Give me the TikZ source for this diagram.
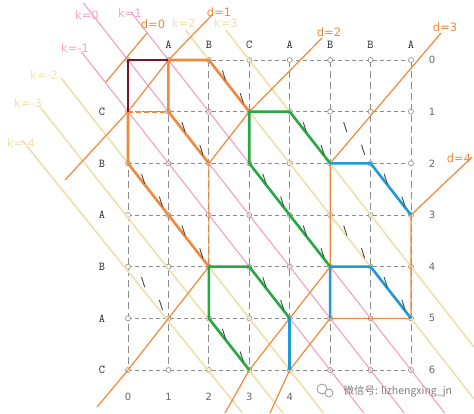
\documentclass[tikz,border=0pt]{standalone}
\usepackage{fontspec}
\setmainfont{DejaVu Sans}
\newfontfamily\cjkfont{Noto Sans CJK SC}
\usetikzlibrary{calc}
\definecolor{kpink}{HTML}{F2A7C6}
\definecolor{kbeige}{HTML}{EDE3B5}
\definecolor{dorange}{HTML}{F2893A}
\definecolor{pathred}{HTML}{7B1525}
\definecolor{pathgreen}{HTML}{27A845}
\definecolor{pathblue}{HTML}{1E9AD6}
\definecolor{gridgray}{HTML}{8C8C8C}
\tikzset{
  hgrid/.style={draw=gridgray, line width=0.8pt, dash pattern=on 4pt off 3pt},
  vgrid/.style={draw=gridgray, line width=0.9pt, dash pattern=on 7pt off 4pt},
  gpt/.style={circle, draw=gridgray, fill=white, line width=0.6pt, inner sep=0pt, minimum size=5pt},
  kp/.style={draw=kpink, line width=1.2pt},
  kb/.style={draw=kbeige, line width=1.8pt},
  dline/.style={draw=dorange, line width=1.2pt, line join=round},
  snakemark/.style={draw=black!72, line width=0.9pt},
  pth/.style={line width=2.6pt, line join=round},
  lbl/.style={font=\fontsize{12}{14}\ttfamily, text=black!85},
  num/.style={font=\fontsize{10}{12}\selectfont, text=black!60},
  klab/.style={font=\fontsize{11.5}{14}\selectfont, inner sep=1pt},
}
\begin{document}
\begin{tikzpicture}[x=1pt,y=-1pt]
\useasboundingbox (0,0) rectangle (474,413);
\clip (0,0) rectangle (474,413);
\fill[white] (0,0) rectangle (474,413);
% grid coordinates
\foreach \i in {0,...,7}{
  \foreach \j in {0,...,6}{
    \coordinate (p-\i-\j) at ({128+40.43*\i},{60+51.67*\j});
  }
}
% grid lines
\foreach \j in {0,...,6} \draw[hgrid] (p-0-\j) -- (p-7-\j);
\foreach \i in {0,...,7} \draw[vgrid] (p-\i-0) -- (p-\i-6);
% grid points
\foreach \i in {0,...,7}{
  \foreach \j in {0,...,6}{
    \node[gpt] (c-\i-\j) at (p-\i-\j) {};
  }
}
% k lines
\coordinate (k0a) at (83.4,3);    \coordinate (k0b) at (404.2,413);
\coordinate (k1a) at (130.9,12);  \coordinate (k1b) at (444.7,413);
\coordinate (km1a) at (81.5,52);  \coordinate (km1b) at (363.8,413);
\coordinate (k2a) at (185.4,30);  \coordinate (k2b) at (474,398.9);
\coordinate (k3a) at (225.8,30);  \coordinate (k3b) at (474,347);
\coordinate (km2a) at (61.2,78);  \coordinate (km2b) at (323.4,413);
\coordinate (km3a) at (40,107);   \coordinate (km3b) at (282.9,413);
\coordinate (km4a) at (22,140);   \coordinate (km4b) at (242.5,413);
\draw[kb] (k2a) -- (k2b);
\draw[kb] (k3a) -- (k3b);
\draw[kb] (km2a) -- (km2b);
\draw[kb] (km3a) -- (km3b);
\draw[kb] (km4a) -- (km4b);
\draw[kp] (k0a) -- (k0b);
\draw[kp] (k1a) -- (k1b);
\draw[kp] (km1a) -- (km1b);
% d lines
\coordinate (d0a) at (106,82);  \coordinate (d0b) at (147,33);
\coordinate (d1a) at (65,180);  \coordinate (d1b) at (212,15);
\coordinate (d2a) at (97,407);  \coordinate (d2b) at (322,38);
\coordinate (d3a) at (225,413); \coordinate (d3b) at (441,33);
\coordinate (d4a) at (270,413); \coordinate (d4b) at (472,157);
\draw[dline] (d0a) -- (d0b);
\draw[dline] (d1a) -- (p-0-1) -- (p-1-0) -- (d1b);
\draw[dline] (d2a) -- (p-0-6) -- (p-1-5) -- (p-2-4) -- (p-2-2) -- (p-3-1) -- (d2b);
\draw[dline] (d3a) -- (p-3-6) -- (p-4-5) -- (p-5-4) -- (p-5-2) -- (d3b);
\draw[dline] (d4a) -- (p-4-6) -- (p-5-5) -- (p-7-5) -- (p-7-3) -- (d4b);
% paths
\draw[pth, dorange] (p-3-1) -- (p-2-0) -- (p-1-0) -- (p-1-1) -- (p-2-2);
\draw[pth, dorange] (p-0-1) -- (p-0-2) -- (p-1-3) -- (p-2-4);
\draw[line width=2pt, dorange, dash pattern=on 5pt off 3pt] (p-0-1) -- (p-1-1);
\draw[pth, pathgreen] (p-5-2) -- (p-4-1) -- (p-3-1) -- (p-3-2) -- (p-4-3) -- (p-5-4);
\draw[pth, pathgreen] (p-4-5) -- (p-3-4) -- (p-2-4) -- (p-2-5) -- (p-3-6);
\draw[pth, pathblue] (p-7-3) -- (p-6-2) -- (p-5-2);
\draw[pth, pathblue] (p-7-5) -- (p-6-4) -- (p-5-4) -- (p-5-5);
\draw[pth, pathblue] (p-4-5) -- (p-4-6);
\draw[pth, pathred] (p-1-0) -- (p-0-0) -- (p-0-1);
% snake marks (matching diagonals), drawn as small backslashes
\foreach \i/\j in {2/0,1/1,4/1,5/1,0/2,3/2,6/2,1/3,4/3,5/3,0/4,3/4,6/4,2/5}{
  \pgfmathtruncatemacro\ii{\i+1}
  \pgfmathtruncatemacro\jj{\j+1}
  \foreach \t in {0.3,0.74}{
    \draw[snakemark] ($(p-\i-\j)!\t!(p-\ii-\jj)+(1.4,-5)$) -- ($(p-\i-\j)!\t!(p-\ii-\jj)+(4.6,5)$);
  }
}
% column letters
\foreach \i/\t in {1/A,2/B,3/C,4/A,5/B,6/B,7/A}
  \node[lbl] (col-\i) at ($(p-\i-0)+(0,-15)$) {\t};
% row letters
\foreach \j/\t in {1/C,2/B,3/A,4/B,5/A,6/C}
  \node[lbl] (row-\j) at ($(p-0-\j)+(-26,0)$) {\t};
% row numbers
\foreach \j in {0,...,6}
  \node[num] (rn-\j) at ($(p-7-\j)+(21,0)$) {\j};
% column numbers
\foreach \i in {0,...,4}
  \node[num] (cn-\i) at ($(p-\i-6)+(0,27)$) {\i};
% k labels
\node[klab, text=kpink] (lk0) at (87,15) {k=0};
\node[klab, text=kpink] (lk1) at (130,13) {k=1};
\node[klab, text=kpink] (lkm1) at (75,48) {k=-1};
\node[klab, text=kbeige] (lk2) at (184,23) {k=2};
\node[klab, text=kbeige] (lk3) at (226,23) {k=3};
\node[klab, text=kbeige] (lkm2) at (44,75) {k=-2};
\node[klab, text=kbeige] (lkm3) at (28,103) {k=-3};
\node[klab, text=kbeige] (lkm4) at (21,143) {k=-4};
% d labels
\node[klab, text=dorange] (ld0) at (153,24) {d=0};
\node[klab, text=dorange] (ld1) at (219,12) {d=1};
\node[klab, text=dorange] (ld2) at (329,32) {d=2};
\node[klab, text=dorange] (ld3) at (445,27) {d=3};
\node[klab, text=dorange] (ld4) at (459,158) {d=4};
% watermark
\draw[black!45, line width=0.7pt] (322,389) circle (5);
\draw[black!45, line width=0.7pt, fill=white] (329,393) circle (4);
\node[anchor=west, text=black!50, font=\fontsize{10.5}{12}\cjkfont] (wm) at (340,391) {微信号: lizhengxing\_jn};
\end{tikzpicture}
\end{document}
